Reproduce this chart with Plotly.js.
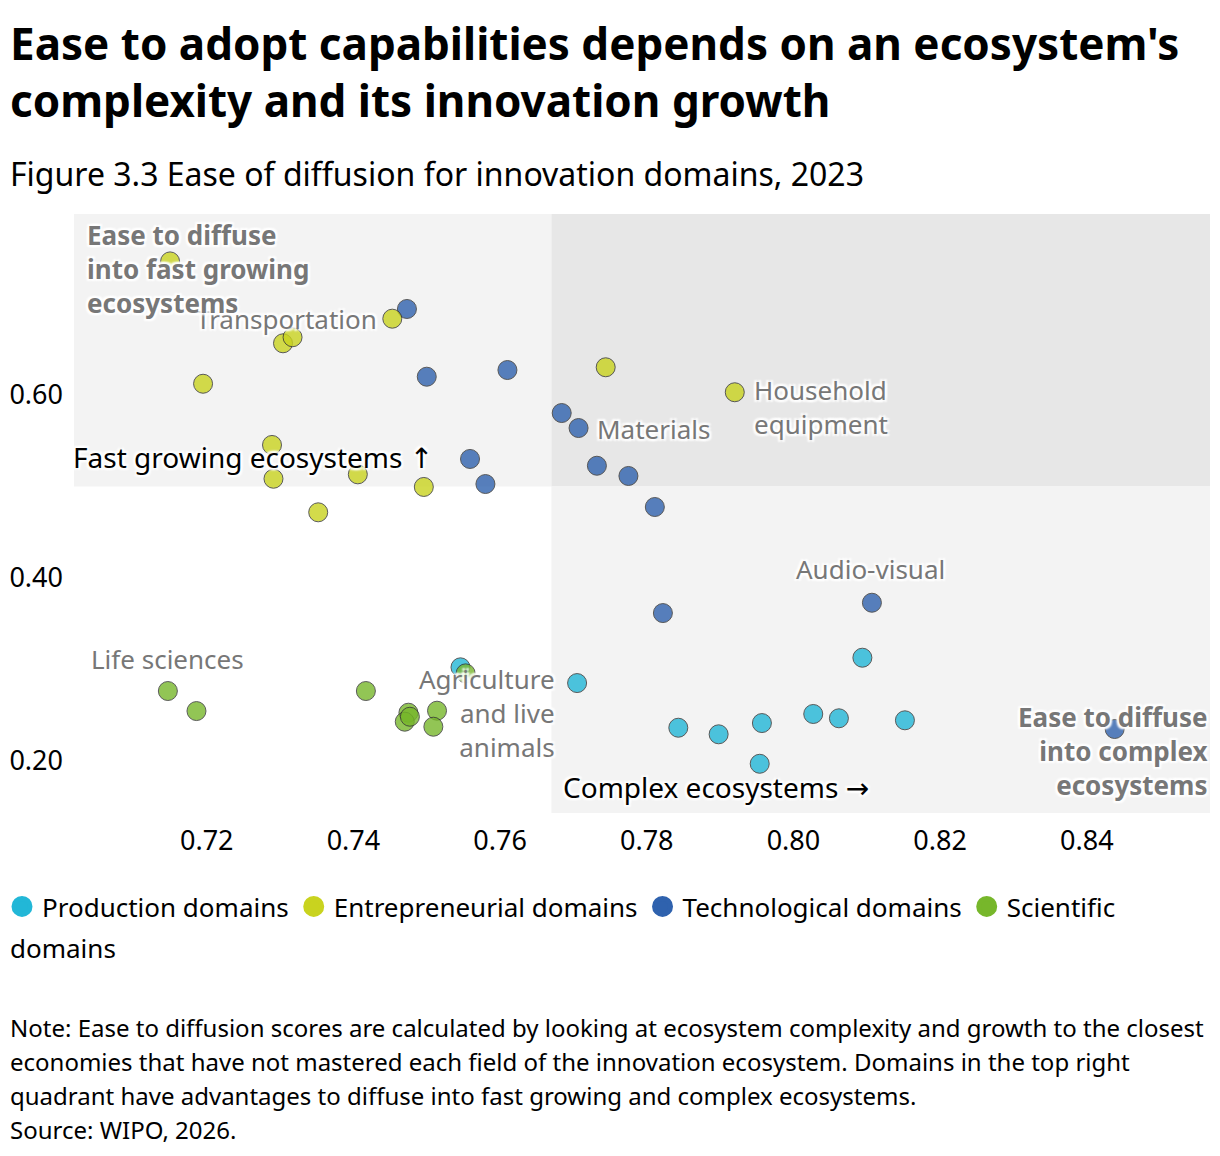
<!DOCTYPE html>
<html>
<head>
<meta charset="utf-8">
<script src="https://cdn.plot.ly/plotly-3.0.1.min.js"></script>
<style>
  html, body { margin: 0; padding: 0; background: #fff; }
  #chart { width: 1220px; height: 1156px; }
</style>
</head>
<body>
<div id="chart"></div>
<script>
// ---- Data ----
const seriesNames = ["Production domains", "Entrepreneurial domains", "Technological domains", "Scientific domains"];
const seriesColors = ["#22b7d7", "#c9d31f", "#2f62ae", "#77b72b"];

const productionX = [0.7546, 0.7705, 0.7843, 0.7898, 0.7957, 0.7954, 0.8027, 0.8062, 0.8094, 0.8152];
const productionY = [0.3024, 0.2852, 0.2364, 0.2292, 0.2415, 0.1970, 0.2514, 0.2467, 0.3129, 0.2445];

const technologicalX = [0.7473, 0.7500, 0.7610, 0.7559, 0.7580, 0.7684, 0.7707, 0.7732, 0.7775, 0.7811, 0.7822, 0.8107, 0.8438];
const technologicalY = [0.6940, 0.6200, 0.6273, 0.5301, 0.5027, 0.5803, 0.5639, 0.5227, 0.5115, 0.4776, 0.3617, 0.3730, 0.2350];

const entrepreneurialX = [0.7150, 0.7453, 0.7304, 0.7317, 0.7195, 0.7744, 0.7920, 0.7289, 0.7291, 0.7406, 0.7496, 0.7352];
const entrepreneurialY = [0.7460, 0.6834, 0.6565, 0.6631, 0.6123, 0.6303, 0.6030, 0.5454, 0.5085, 0.5133, 0.4995, 0.4718];

const scientificX = [0.7147, 0.7186, 0.7417, 0.7475, 0.7470, 0.7477, 0.7514, 0.7509, 0.7553];
const scientificY = [0.2765, 0.2546, 0.2765, 0.2528, 0.2430, 0.2484, 0.2550, 0.2375, 0.2958];

const xTickVals = [0.72, 0.74, 0.76, 0.78, 0.80, 0.82, 0.84];
const xTickText = ["0.72", "0.74", "0.76", "0.78", "0.80", "0.82", "0.84"];
const yTickVals = [0.20, 0.40, 0.60];
const yTickText = ["0.20", "0.40", "0.60"];

const xRange = [0.7019, 0.8568];
const yRange = [0.1432, 0.7978];
const xSplit = 0.767;   // complexity threshold
const ySplit = 0.50;    // growth threshold

const titleText = "<b>Ease to adopt capabilities depends on an ecosystem's<br>complexity and its innovation growth</b>";
const subtitleText = "Figure 3.3 Ease of diffusion for innovation domains, 2023";
const noteLines = [
  "Note: Ease to diffusion scores are calculated by looking at ecosystem complexity and growth to the closest",
  "economies that have not mastered each field of the innovation ecosystem. Domains in the top right",
  "quadrant have advantages to diffuse into fast growing and complex ecosystems.",
  "Source: WIPO, 2026."
];

// ---- Layout helpers ----
const W = 1220, H = 1156;
const M = { l: 74, r: 10, t: 214, b: 343 };
const PW = W - M.l - M.r, PH = H - M.t - M.b;
const px = v => (v - M.l) / PW;          // pixel x -> paper x
const py = v => (H - M.b - v) / PH;      // pixel y -> paper y

const FONT = "Noto Sans, Open Sans, sans-serif";
const HALO = "2px 2px 2px #fff, -2px -2px 2px #fff, 2px -2px 2px #fff, -2px 2px 2px #fff, 0px 0px 4px #fff";
const ARW = s => "<span style=\"font-family:'DejaVu Sans'\">" + s + "</span>";

function mkTrace(x, y, i) {
  return {
    type: "scatter", mode: "markers", x: x, y: y,
    name: seriesNames[i], showlegend: false,
    marker: { size: 19, color: seriesColors[i], opacity: 0.8, line: { color: "#333", width: 1 } },
    hovertemplate: seriesNames[i] + "<br>Complexity: %{x:.3f}<br>Growth: %{y:.3f}<extra></extra>"
  };
}
function legendTrace(i, label) {
  return {
    type: "scatter", mode: "markers", x: [null], y: [null],
    name: label, showlegend: true, legendrank: i + 1,
    marker: { size: 16, color: seriesColors[i], line: { color: seriesColors[i], width: 5 } },
    hoverinfo: "skip"
  };
}

const data = [
  mkTrace(productionX, productionY, 0),
  mkTrace(technologicalX, technologicalY, 2),
  mkTrace(entrepreneurialX, entrepreneurialY, 1),
  mkTrace(scientificX, scientificY, 3),
  legendTrace(0, "Production domains"),
  legendTrace(1, "Entrepreneurial domains"),
  legendTrace(2, "Technological domains"),
  legendTrace(3, "Scientific")
];

function lbl(text, x, y, xanchor, opts) {
  opts = opts || {};
  return Object.assign({
    text: text, x: x, y: y, xref: "x", yref: "y", xanchor: xanchor, yanchor: "middle",
    align: xanchor === "right" ? "right" : (xanchor === "left" ? "left" : "center"),
    showarrow: false,
    font: { family: FONT, size: 26, color: "#777777", shadow: HALO }
  }, opts);
}
const grayBold = { family: FONT, size: 26, color: "#777777", weight: 700, shadow: HALO };
const blackAx = { family: FONT, size: 28, color: "#000000", shadow: HALO };

const annotations = [
  // point labels
  lbl("Transportation", 0.7309, 0.6831, "center"),
  lbl("Household<br>equipment", 0.7943, 0.5869, "left"),
  lbl("Materials", 0.7730, 0.5628, "left"),
  lbl("Audio-visual", 0.8105, 0.4098, "center"),
  lbl("Life sciences", 0.7147, 0.3115, "center"),
  lbl("Agriculture<br>and live<br>animals", 0.7678, 0.2525, "right"),
  // quadrant captions
  lbl("Ease to diffuse<br>into fast growing<br>ecosystems", 0.7034, 0.7377, "left", { font: grayBold }),
  lbl("Ease to diffuse<br>into complex<br>ecosystems", 0.8568, 0.2109, "right", { font: grayBold }),
  // axis direction captions
  { text: "Fast growing ecosystems " + ARW("↑"), x: 0, y: 0.5322, xref: "paper", yref: "y", xanchor: "left", yanchor: "middle",
    xshift: -3, showarrow: false, font: blackAx },
  lbl("Complex ecosystems " + ARW("→"), 0.7687, 0.1716, "left", { font: blackAx, xshift: -3 }),
  // subtitle
  { text: subtitleText, x: px(10), y: py(173), xref: "paper", yref: "paper", xanchor: "left", yanchor: "middle", showarrow: false,
    xshift: -2, font: { family: FONT, size: 32, color: "#000" } },
  // legend wrap continuation
  { text: "domains", x: px(10), y: py(948), xref: "paper", yref: "paper", xanchor: "left", yanchor: "middle", showarrow: false,
    xshift: -2, font: { family: FONT, size: 26, color: "#000" } }
];
noteLines.forEach((t, i) => {
  annotations.push({ text: t, x: px(10), y: py(1027 + i * 34), xref: "paper", yref: "paper", xanchor: "left", yanchor: "middle",
    xshift: -2, showarrow: false, font: { family: FONT, size: 24, color: "#000" } });
});

const shapes = [
  { type: "rect", xref: "x", yref: "y", x0: xRange[0], x1: xSplit, y0: ySplit, y1: yRange[1], fillcolor: "#f3f3f3", line: { width: 0 }, layer: "below" },
  { type: "rect", xref: "x", yref: "y", x0: xSplit, x1: xRange[1], y0: ySplit, y1: yRange[1], fillcolor: "#e7e7e7", line: { width: 0 }, layer: "below" },
  { type: "rect", xref: "x", yref: "y", x0: xSplit, x1: xRange[1], y0: yRange[0], y1: ySplit, fillcolor: "#f3f3f3", line: { width: 0 }, layer: "below" }
];

const layout = {
  width: W, height: H,
  margin: { l: M.l, r: M.r, t: M.t, b: M.b, pad: 0 },
  paper_bgcolor: "#ffffff", plot_bgcolor: "#ffffff",
  font: { family: FONT, size: 26, color: "#000" },
  title: {
    text: titleText, xref: "container", yref: "container",
    x: 10 / W, xanchor: "left", y: 1 - 60 / H, yanchor: "top",
    font: { family: FONT, size: 44, color: "#000", weight: 700 }
  },
  xaxis: {
    range: xRange, tickvals: xTickVals, ticktext: xTickText,
    showgrid: false, zeroline: false, showline: false, ticks: "",
    ticklabelstandoff: 9, tickfont: { family: FONT, size: 27, color: "#000" }
  },
  yaxis: {
    range: yRange, tickvals: yTickVals, ticktext: yTickText,
    showgrid: false, zeroline: false, showline: false, ticks: "",
    ticklabelstandoff: 10, tickfont: { family: FONT, size: 27, color: "#000" }
  },
  showlegend: true,
  legend: {
    orientation: "h", xref: "container", yref: "container",
    x: 2 / W, xanchor: "left", y: 1 - 883 / H, yanchor: "top",
    font: { family: FONT, size: 26, color: "#000" },
    bgcolor: "rgba(0,0,0,0)", traceorder: "normal", itemclick: false, itemdoubleclick: false
  },
  shapes: shapes,
  annotations: annotations,
  hovermode: "closest"
};

Plotly.newPlot("chart", data, layout, { displayModeBar: false, responsive: false });
</script>
</body>
</html>
